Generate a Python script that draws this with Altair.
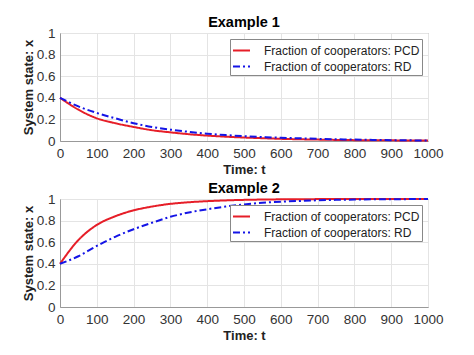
import altair as alt
import pandas as pd

t = [0, 50, 100, 150, 200, 250, 300, 350, 400, 450, 500, 550, 600, 650, 700, 750, 800, 850, 900, 950, 1000]

ex1_pcd = [0.40, 0.29, 0.21, 0.165, 0.13, 0.10, 0.08, 0.063, 0.05, 0.04, 0.032, 0.026, 0.02, 0.016, 0.013, 0.01, 0.008, 0.007, 0.006, 0.005, 0.004]
ex1_rd = [0.40, 0.32, 0.26, 0.21, 0.165, 0.13, 0.105, 0.085, 0.068, 0.055, 0.045, 0.037, 0.03, 0.025, 0.02, 0.016, 0.013, 0.01, 0.008, 0.006, 0.005]
ex2_pcd = [0.40, 0.62, 0.76, 0.84, 0.895, 0.93, 0.955, 0.97, 0.98, 0.987, 0.992, 0.995, 0.997, 0.998, 0.999, 1.0, 1.0, 1.0, 1.0, 1.0, 1.0]
ex2_rd = [0.40, 0.47, 0.565, 0.65, 0.72, 0.78, 0.835, 0.875, 0.905, 0.93, 0.95, 0.965, 0.975, 0.982, 0.988, 0.992, 0.995, 0.997, 0.998, 0.999, 1.0]

series_names = ["Fraction of cooperators: PCD", "Fraction of cooperators: RD"]
titles = ["Example 1", "Example 2"]
x_ticks = [0, 100, 200, 300, 400, 500, 600, 700, 800, 900, 1000]
y_ticks = [0, 0.2, 0.4, 0.6, 0.8, 1]

FONT = "Liberation Sans"


def make_df(pcd, rd):
    rows = []
    for name, vals in zip(series_names, [pcd, rd]):
        for ti, v in zip(t, vals):
            rows.append({"t": ti, "x": v, "series": name})
    return pd.DataFrame(rows)


def panel(df, title):
    return alt.Chart(df, title=alt.TitleParams(title, fontSize=14.5, fontWeight="bold", font=FONT, color="black", offset=-4)).mark_line(
        strokeWidth=2, interpolate="monotone"
    ).encode(
        x=alt.X("t:Q", title="Time: t", scale=alt.Scale(domain=[0, 1000], nice=False),
                axis=alt.Axis(values=x_ticks, format="d", labelFlush=False, titlePadding=4)),
        y=alt.Y("x:Q", title="System state: x", scale=alt.Scale(domain=[0, 1], nice=False),
                axis=alt.Axis(values=y_ticks, format="~g", titlePadding=1)),
        color=alt.Color("series:N", scale=alt.Scale(domain=series_names, range=["#e61e28", "#1414e6"]),
                        legend=alt.Legend(title=None, orient="top-right", offset=6, strokeColor="#888",
                                          fillColor="white", padding=2, labelFontSize=12, labelFont=FONT,
                                          labelLimit=300, symbolType="stroke", symbolSize=289, symbolStrokeWidth=2,
                                          rowPadding=-2, labelColor="#222", labelOffset=13)),
        strokeDash=alt.StrokeDash("series:N", scale=alt.Scale(domain=series_names, range=[[1, 0], [7, 3, 2, 3]]),
                                  legend=alt.Legend(title=None, orient="top-right")),
    ).properties(width=368, height=108)


top = panel(make_df(ex1_pcd, ex1_rd), titles[0])
bottom = panel(make_df(ex2_pcd, ex2_rd), titles[1])

chart = alt.vconcat(top, bottom, spacing=3).resolve_scale(
    color="independent", strokeDash="independent"
).configure_axis(
    labelFont=FONT, titleFont=FONT, labelFontSize=13.5, titleFontSize=13, titleFontWeight="bold",
    labelColor="#333", titleColor="#222", gridColor="#e4e4e4", domainColor="#999", tickColor="#999",
    ticks=False, labelPadding=5
).configure_view(stroke="#999").properties(padding={"left": 21, "top": 14, "right": 5, "bottom": 5})

chart.save("out.html", embed_options={"renderer": "svg", "actions": False})
